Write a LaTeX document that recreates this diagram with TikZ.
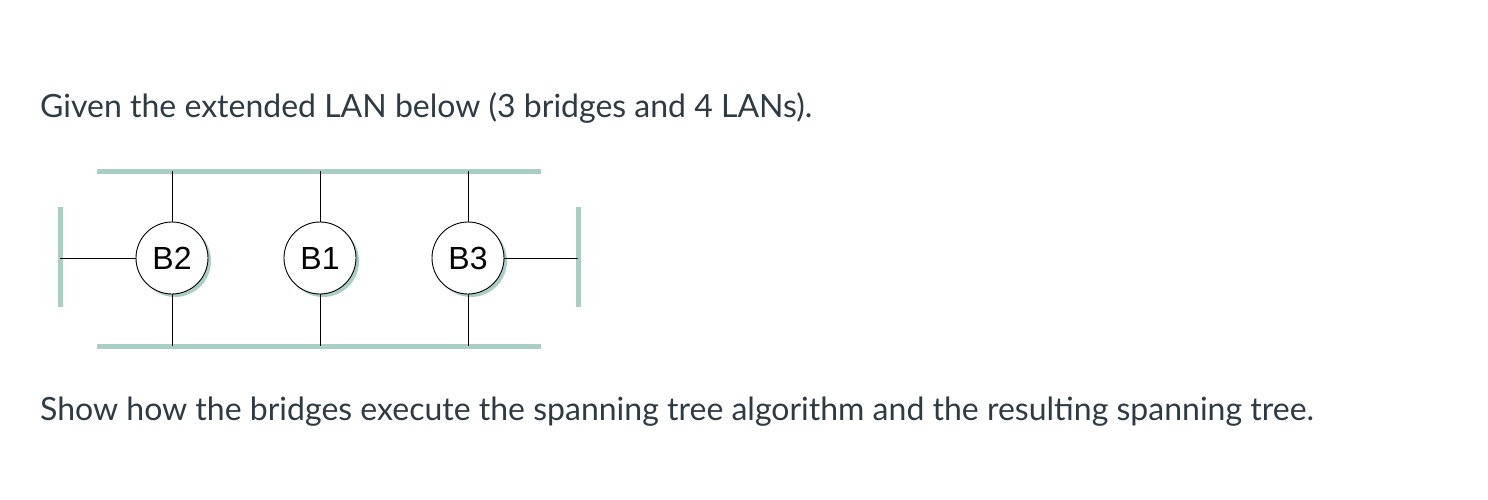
\documentclass[tikz,border=0pt]{standalone}
\usepackage{fontspec}
\setmainfont{Lato}
\newfontfamily\bridgefont{Liberation Sans}
\usetikzlibrary{shadows}
\definecolor{lanteal}{RGB}{168,206,198}
\definecolor{textgray}{RGB}{45,59,69}
\tikzstyle{bridge} = [circle, draw, fill=white, line width=0.9pt, minimum size=72pt,
    inner sep=0pt, font=\bridgefont\fontsize{32}{36}\selectfont,
    drop shadow={shadow xshift=3pt, shadow yshift=-3pt, fill=lanteal, opacity=1}]
\tikzstyle{lan} = [draw=lanteal, line width=5pt]
\tikzstyle{line} = [draw, line width=0.9pt]
\tikzstyle{question} = [anchor=base west, inner sep=0pt, text=textgray,
    font=\fontsize{32}{38}\selectfont]

\begin{document}
\begin{tikzpicture}[x=1pt, y=-1pt]
    \useasboundingbox (0,0) rectangle (1488,500);

    % Place text
    \node [question] (q1) at (40,118) {Given the extended LAN below (3 bridges and 4 LANs).};
    \node [question] (q2) at (40,420) {Show how the bridges execute the spanning tree algorithm and the resulting spanning tree.};

    % Place LANs
    \coordinate (topL) at (97,171);
    \coordinate (topR) at (541,171);
    \coordinate (botL) at (97,346);
    \coordinate (botR) at (541,346);
    \coordinate (leftT) at (60,207);
    \coordinate (leftB) at (60,307);
    \coordinate (rightT) at (578,207);
    \coordinate (rightB) at (578,307);
    \path [lan] (topL) -- (topR);
    \path [lan] (botL) -- (botR);
    \path [lan] (leftT) -- (leftB);
    \path [lan] (rightT) -- (rightB);

    % Place bridges
    \node [bridge] (B2) at (172,258) {B2};
    \node [bridge] (B1) at (320,258) {B1};
    \node [bridge] (B3) at (468,258) {B3};

    % Draw edges
    \path [line] (B2) -- (B2 |- topL);
    \path [line] (B2) -- (B2 |- botL);
    \path [line] (B2) -- (leftT |- B2);
    \path [line] (B1) -- (B1 |- topL);
    \path [line] (B1) -- (B1 |- botL);
    \path [line] (B3) -- (B3 |- topL);
    \path [line] (B3) -- (B3 |- botL);
    \path [line] (B3) -- (rightT |- B3);

\end{tikzpicture}
\end{document}
